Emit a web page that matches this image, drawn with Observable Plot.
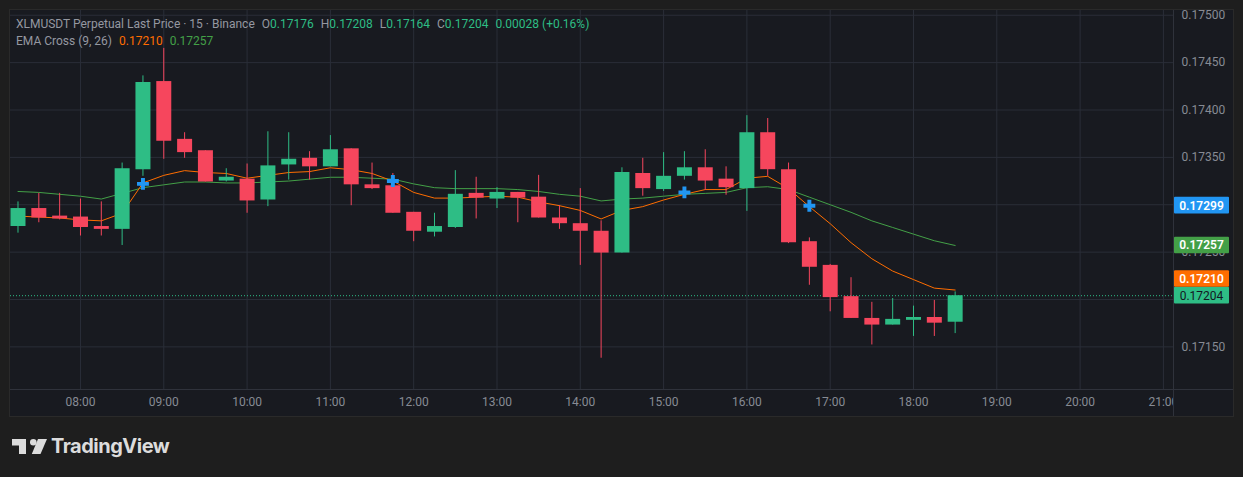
<!DOCTYPE html>
<html>
<head>
<meta charset="utf-8">
<script src="https://cdn.jsdelivr.net/npm/d3@7"></script>
<script src="https://cdn.jsdelivr.net/npm/@observablehq/plot@0.6"></script>
<style>
html,body{margin:0;padding:0;background:#1e1e1e;}
#wrap{position:relative;width:1243px;height:477px;overflow:hidden;font-family:"Trebuchet MS",Roboto,"DejaVu Sans",sans-serif;}
#panel{position:absolute;left:10px;top:10px;width:1223px;height:406px;background:#181a20;outline:1px solid #2a2a2a;}
#panel svg{display:block;}
#legend{position:absolute;left:16px;top:16px;font-size:12px;color:#9598a1;line-height:17px;white-space:nowrap;}
#legend .g{color:#2ebd85;}
#legend .o{color:#ff6d00;}
#legend .e{color:#43a047;}
#legend .sp{margin-left:7px;}
#logo{position:absolute;left:12px;top:434px;display:flex;align-items:center;color:#dcdcdc;}
#logo span{font-family:Inter,Lato,sans-serif;font-weight:700;font-size:20px;letter-spacing:-0.5px;margin-left:4px;}
</style>
</head>
<body>
<div id="wrap">
  <div id="panel"></div>
  <div id="legend"></div>
  <div id="logo">
    <svg width="35" height="15" viewBox="0 0 35 15"><path fill="#dcdcdc" d="M0,0H14V15H7V6.5H0Z"/><circle fill="#dcdcdc" cx="21.3" cy="3.3" r="3.3"/><path fill="#dcdcdc" d="M26,0H35L28.5,15H19.8Z"/></svg>
    <span>TradingView</span>
  </div>
</div>
<script>
// ---- data (15-minute candles, XLMUSDT) ----
const times = ["07:15","07:30","07:45","08:00","08:15","08:30","08:45","09:00","09:15","09:30","09:45","10:00","10:15","10:30","10:45","11:00","11:15","11:30","11:45","12:00","12:15","12:30","12:45","13:00","13:15","13:30","13:45","14:00","14:15","14:30","14:45","15:00","15:15","15:30","15:45","16:00","16:15","16:30","16:45","17:00","17:15","17:30","17:45","18:00","18:15","18:30"];
const opens  = [0.17277,0.17296,0.17288,0.17287,0.17277,0.17274,0.17337,0.17430,0.17369,0.17357,0.17325,0.17327,0.17305,0.17342,0.17349,0.17340,0.17359,0.17321,0.17320,0.17292,0.17271,0.17276,0.17312,0.17306,0.17313,0.17308,0.17286,0.17280,0.17272,0.17249,0.17333,0.17316,0.17330,0.17339,0.17327,0.17317,0.17376,0.17337,0.17261,0.17236,0.17203,0.17180,0.17173,0.17178,0.17181,0.17176];
const highs  = [0.17303,0.17312,0.17312,0.17306,0.17303,0.17344,0.17436,0.17465,0.17376,0.17357,0.17338,0.17343,0.17377,0.17376,0.17356,0.17373,0.17359,0.17344,0.17333,0.17292,0.17291,0.17336,0.17329,0.17318,0.17313,0.17331,0.17299,0.17317,0.17283,0.17339,0.17349,0.17355,0.17356,0.17358,0.17340,0.17394,0.17391,0.17344,0.17265,0.17237,0.17223,0.17197,0.17201,0.17193,0.17199,0.17208];
const lows   = [0.17270,0.17281,0.17284,0.17267,0.17267,0.17257,0.17330,0.17348,0.17349,0.17324,0.17324,0.17291,0.17298,0.17326,0.17326,0.17340,0.17299,0.17316,0.17291,0.17261,0.17266,0.17275,0.17285,0.17296,0.17281,0.17286,0.17274,0.17236,0.17138,0.17249,0.17309,0.17314,0.17326,0.17315,0.17310,0.17293,0.17330,0.17259,0.17215,0.17187,0.17180,0.17152,0.17173,0.17161,0.17161,0.17164];
const closes = [0.17296,0.17286,0.17285,0.17276,0.17274,0.17338,0.17429,0.17367,0.17355,0.17324,0.17329,0.17304,0.17341,0.17348,0.17340,0.17358,0.17321,0.17317,0.17291,0.17272,0.17277,0.17311,0.17307,0.17313,0.17307,0.17286,0.17280,0.17272,0.17249,0.17334,0.17317,0.17330,0.17339,0.17325,0.17318,0.17376,0.17337,0.17260,0.17234,0.17202,0.17180,0.17173,0.17179,0.17181,0.17175,0.17204];
const ema9   = [0.17288,0.17287,0.17286,0.17284,0.17283,0.17291,0.17323,0.17331,0.17336,0.17334,0.17333,0.17328,0.17331,0.17334,0.17335,0.17339,0.17337,0.17333,0.17325,0.17313,0.17307,0.17307,0.17308,0.17309,0.17308,0.17303,0.17299,0.17294,0.17285,0.17294,0.17298,0.17305,0.17311,0.17316,0.17316,0.17328,0.17330,0.17317,0.17298,0.17280,0.17260,0.17243,0.17230,0.17221,0.17212,0.17210];
const ema26  = [0.17314,0.17313,0.17311,0.17309,0.17306,0.17312,0.17318,0.17321,0.17324,0.17324,0.17323,0.17323,0.17324,0.17325,0.17327,0.17329,0.17329,0.17328,0.17327,0.17322,0.17318,0.17317,0.17317,0.17317,0.17316,0.17314,0.17311,0.17309,0.17304,0.17306,0.17307,0.17309,0.17311,0.17312,0.17313,0.17318,0.17319,0.17316,0.17308,0.17300,0.17292,0.17283,0.17276,0.17269,0.17262,0.17257];
const crossTimes  = ["08:45","11:45","15:15","16:45"];
const crossValues = [0.17322,0.17325,0.17313,0.17299];
const hourTicks  = ["08:00","09:00","10:00","11:00","12:00","13:00","14:00","15:00","16:00","17:00","18:00","19:00","20:00","21:00"];
const priceTicks = [0.1715,0.1720,0.1725,0.1730,0.1735,0.1740,0.1745,0.1750];
const tagValues  = [0.17299,0.17257,0.17210,0.17204];
const tagFills   = ["#2196f3","#43a047","#ff6d00","#2ebd85"];
const tagInks    = ["#ffffff","#ffffff","#ffffff","#131722"];

// ---- build ----
const UP = "#2ebd85", DOWN = "#f6465d", GRID = "#2a2e38", AXIS = "#878b94";
const day = t => { const [h, m, s] = t.split(":").map(Number); return new Date(Date.UTC(2024, 0, 1, h, m, s || 0)); };
const rows = times.map((t, i) => ({t: day(t), o: opens[i], h: highs[i], l: lows[i], c: closes[i], e9: ema9[i], e26: ema26[i]}));
rows.forEach(d => d.col = d.c >= d.o ? UP : DOWN);
const crosses = crossTimes.map((t, i) => ({t: day(t), v: crossValues[i]}));
const xt = hourTicks.map(day);
const last = rows[rows.length - 1];

function cover(index, scales, values, dim) {
  const g = d3.create("svg:g");
  const x0 = dim.width - dim.marginRight, yb = dim.height - dim.marginBottom;
  g.append("rect").attr("x", x0).attr("y", 0).attr("width", dim.marginRight).attr("height", dim.height).attr("fill", "#181a20");
  g.append("line").attr("x1", x0 + 0.5).attr("x2", x0 + 0.5).attr("y1", 0).attr("y2", dim.height).attr("stroke", "#2f323b");
  g.append("line").attr("x1", 0).attr("x2", dim.width).attr("y1", yb + 0.5).attr("y2", yb + 0.5).attr("stroke", "#2f323b");
  return g.node();
}
function tags(index, scales, values, dim) {
  const g = d3.create("svg:g");
  const x0 = dim.width - dim.marginRight, H = 16.7;
  const items = tagValues.map((v, i) => ({v, fill: tagFills[i], ink: tagInks[i], y: scales.y(v)}))
    .sort((a, b) => b.y - a.y);
  for (let i = 1; i < items.length; i++) {
    if (items[i].y > items[i - 1].y - H) items[i].y = items[i - 1].y - H;
  }
  for (const it of items) {
    g.append("rect").attr("x", x0 + 1).attr("y", it.y - H / 2).attr("width", 55).attr("height", H).attr("rx", 1).attr("fill", it.fill);
    g.append("text").attr("x", x0 + 28.5).attr("y", it.y).attr("dy", "0.36em").attr("text-anchor", "middle")
      .attr("fill", it.ink).attr("font-size", 12).attr("font-weight", it.ink === "#ffffff" ? 600 : 400)
      .text(d3.format(".5f")(it.v));
  }
  return g.node();
}

const chart = Plot.plot({
  width: 1223, height: 406,
  marginLeft: 0, marginRight: 60, marginTop: 0, marginBottom: 27,
  style: {background: "transparent", color: AXIS, fontSize: "12px", fontFamily: "'Trebuchet MS', Roboto, sans-serif", overflow: "hidden"},
  x: {type: "utc", domain: [day("07:09:36"), day("21:07:16")]},
  y: {domain: [0.17105, 0.17505]},
  marks: [
    Plot.gridX(xt, {stroke: GRID, strokeOpacity: 1}),
    Plot.gridY(priceTicks, {stroke: GRID, strokeOpacity: 1}),
    Plot.ruleY([last.c], {stroke: UP, strokeDasharray: "1,2", strokeWidth: 1}),
    Plot.line(rows, {x: "t", y: "e26", stroke: "#43a047", strokeWidth: 1}),
    Plot.line(rows, {x: "t", y: "e9", stroke: "#ff6d00", strokeWidth: 1}),
    Plot.ruleX(rows, {x: "t", y1: "l", y2: "h", stroke: "col", strokeWidth: 1}),
    Plot.ruleX(rows, {x: "t", y1: "o", y2: "c", stroke: "col", strokeWidth: 15}),
    Plot.dot(crosses, {x: "t", y: "v", symbol: "cross", fill: "#2196f3", r: 5}),
    Plot.axisX(xt, {anchor: "bottom", tickSize: 0, tickPadding: 8, tickFormat: d3.utcFormat("%H:%M"), label: null, fill: AXIS}),
    cover,
    Plot.axisY(priceTicks, {anchor: "right", tickSize: 0, tickPadding: 8, tickFormat: d3.format(".5f"), label: null, fill: AXIS}),
    tags
  ]
});
document.getElementById("panel").appendChild(chart);

const f5 = d3.format(".5f");
const chg = last.c - last.o;
document.getElementById("legend").innerHTML =
  `<div>XLMUSDT Perpetual Last Price · 15 · Binance<span class="sp">O</span><span class="g">${f5(last.o)}</span>` +
  `<span class="sp">H</span><span class="g">${f5(last.h)}</span><span class="sp">L</span><span class="g">${f5(last.l)}</span>` +
  `<span class="sp">C</span><span class="g">${f5(last.c)}</span><span class="g sp">${f5(chg)} (+${(chg / last.o * 100).toFixed(2)}%)</span></div>` +
  `<div>EMA Cross (9, 26)<span class="o sp">${f5(ema9[ema9.length - 1])}</span><span class="e sp">${f5(ema26[ema26.length - 1])}</span></div>`;
</script>
</body>
</html>
